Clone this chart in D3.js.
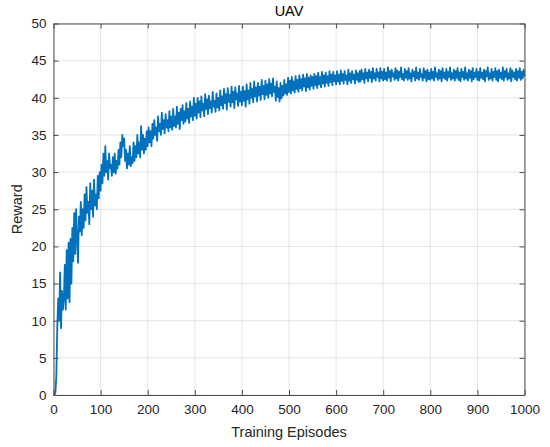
<!DOCTYPE html>
<html>
	<head>
		<meta charset="utf-8">
		<script src="https://cdnjs.cloudflare.com/ajax/libs/d3/7.8.5/d3.min.js" charset="utf-8"></script>
		<style>
			body {
				margin: 0;
				background: #fff;
				font-family: 'Liberation Sans', Arial, sans-serif;
			}
			.grid line { stroke: #e5e5e5; stroke-width: 1; }
			.axis path, .axis line { stroke: #4d4d4d; }
			.axis text { fill: #262626; font-size: 13.5px; font-family: 'Liberation Sans', Arial, sans-serif; }
		</style>
	</head>
	<body>

		<div id="chart"></div>

		<script>

			//////////////////////////////// Data //////////////////////////////
			var title = "UAV";
			var xLabel = "Training Episodes";
			var yLabel = "Reward";
			var xTicks = [0, 100, 200, 300, 400, 500, 600, 700, 800, 900, 1000];
			var yTicks = [0, 5, 10, 15, 20, 25, 30, 35, 40, 45, 50];

			// one value every 2 episodes
			var episodes = d3.range(2, 1001, 2);
			var reward = [
				// 2 - 100
				0, 0.3, 2.5, 9, 13, 10, 16.5, 9, 14, 11.5, 13, 17.5, 11.5, 19.5, 13, 20.5, 12.5,
				21, 15, 22.5, 18, 24.5, 19, 25, 21, 17.8, 24, 22, 26, 21.5, 25, 22.5,
				27, 23.5, 28, 24.5, 26, 23, 28.5, 25, 27.5, 24, 29, 25.5, 27, 25, 29.5, 26.5, 30, 27.5,
				// 102 - 200
				31, 28.5, 32.5, 29.5, 33.5, 30, 31.5, 29, 32.5, 30.5, 31, 29.5, 32, 30, 32.5, 29.8, 31.5, 30.5, 33, 31, 34, 32, 35, 33.5, 34.5,
				31.5, 33, 30.5, 32.5, 31, 33.5, 30.8, 32, 31.2, 34, 31.5, 33.5, 32, 35, 32.5, 34, 32, 36.2, 33, 35, 32.5, 34.5, 33, 35.5, 33.5,
				// 202 - 300
				36, 34, 35.5, 33.5, 36.5, 34.5, 37, 35, 36, 34.2, 37.5, 35.5, 36.5, 35, 38, 35.8, 37, 35.2, 37.8, 36, 37, 35.5, 38.2, 36, 37.5,
				35.7, 38.5, 36.2, 37.5, 36, 38.8, 36.5, 38, 35.8, 38.5, 37, 39, 36.5, 38.2, 36.8, 39.3, 37.2, 38.5, 36.6, 39.5, 37.5, 38.8, 37, 40, 37.6,
				// 302 - 400
				39.2, 37.2, 40, 38, 39.5, 37.4, 40.2, 38.3, 39.2, 37.5, 40.5, 38.5, 39.8, 37.8, 40.3, 38.6, 39.5, 38, 40.8, 38.8, 39.6, 38.1, 40.6, 38.7, 40,
				38.3, 41, 39, 40.2, 38.5, 41.2, 39.3, 40.5, 38.4, 41.3, 39.5, 40.4, 38.8, 41.5, 39.4, 40.8, 38.6, 41.4, 39.8, 40.6, 38.9, 41.6, 39.5, 40.8, 39,
				// 402 - 500
				41.5, 39.6, 40.9, 38.8, 41.8, 39.8, 41, 39.2, 42, 40, 41.2, 39.4, 42.2, 40.2, 41.4, 39.5, 42, 40.3, 41.5, 39.7, 42.4, 40.5, 41.6, 39.8, 42.3,
				40.4, 41.8, 40, 42.5, 40.6, 41.9, 40.2, 42.6, 40.8, 41.5, 39.6, 42.2, 40.1, 41.3, 39.5, 42, 39.9, 41.6, 40.3, 42.4, 40.6, 41.8, 40.4, 42.7, 40.8,
				// 502 - 600
				42.3, 40.6, 42.8, 41, 42.2, 40.7, 42.9, 41.2, 42.4, 40.8, 43, 41.3, 42.5, 41, 43.1, 41.5, 42.6, 40.9, 43.2, 41.4, 42.7, 41.1, 43, 41.6, 42.8,
				41.2, 43.2, 41.7, 42.9, 41.3, 43.4, 41.8, 42.8, 41.4, 43.5, 41.9, 43, 41.5, 43.4, 42, 42.9, 41.6, 43.6, 42.1, 43.1, 41.7, 43.5, 42.2, 43, 41.8,
				// 602 - 700
				43.6, 42.2, 43.1, 41.8, 43.7, 42.3, 43.2, 41.9, 43.6, 42.4, 43, 41.8, 43.8, 42.3, 43.3, 42, 43.6, 42.5, 43.1, 41.9, 43.7, 42.4, 43.3, 42.1, 43.6,
				42.2, 43.8, 42.5, 43.3, 42, 43.9, 42.6, 43.4, 42.2, 43.8, 42.7, 43.5, 42.1, 44, 42.6, 43.3, 42.3, 43.9, 42.8, 43.4, 42.2, 44, 42.6, 43.5, 42.3,
				// 702 - 800
				43.9, 42.5, 43.4, 42.3, 44.1, 42.7, 43.6, 42.2, 43.8, 42.9, 43.3, 42.4, 44, 42.6, 43.7, 42.3, 43.5, 42.8, 44.1, 42.5, 43.2, 42.3, 43.9, 42.7, 43.6,
				42.4, 44, 42.6, 43.3, 42.2, 43.8, 42.9, 43.5, 42.3, 44.1, 42.6, 43.4, 42.4, 43.9, 42.8, 43.2, 42.3, 44, 42.7, 43.6, 42.2, 43.8, 42.5, 43.4, 42.4,
				// 802 - 900
				43.9, 42.6, 43.5, 42.3, 44.1, 42.8, 43.3, 42.4, 43.8, 42.6, 43.6, 42.2, 44, 42.7, 43.4, 42.5, 43.9, 42.3, 43.5, 42.8, 44.1, 42.4, 43.3, 42.6, 43.8,
				42.3, 43.6, 42.7, 44, 42.4, 43.4, 42.2, 43.9, 42.8, 43.5, 42.4, 44.1, 42.6, 43.3, 42.3, 43.8, 42.7, 43.6, 42.2, 44, 42.5, 43.4, 42.8, 43.9, 42.4,
				// 902 - 1000
				43.5, 42.3, 44, 42.7, 43.4, 42.5, 43.8, 42.2, 43.6, 42.9, 44.1, 42.4, 43.3, 42.6, 43.9, 42.3, 43.5, 42.8, 44, 42.4, 43.6, 42.2, 43.8, 42.7, 43.4,
				42.5, 44.1, 42.3, 43.6, 42.8, 43.9, 42.4, 43.3, 42.6, 44, 42.2, 43.7, 42.8, 43.4, 42.5, 43.9, 42.3, 43.6, 42.7, 44, 42.4, 43.5, 42.6, 43.8, 42.9
			];

			//////////////////////////////// Layout //////////////////////////////
			var margin = { top: 23.5, right: 25.5, bottom: 52, left: 53.5 };
			var fullW = 550, fullH = 447;
			var width = fullW - margin.left - margin.right,
				height = fullH - margin.top - margin.bottom;

			var svg = d3.select('#chart')
				.append("svg")
				.attr("width", fullW)
				.attr("height", fullH);

			var g = svg.append("g")
				.attr("transform", "translate(" + margin.left + "," + margin.top + ")");

			var x = d3.scaleLinear().domain([0, 1000]).range([0, width]);
			var y = d3.scaleLinear().domain([0, 50]).range([height, 0]);

			//Grid
			var grid = g.append("g").attr("class", "grid");
			grid.selectAll(".vg").data(xTicks).enter().append("line")
				.attr("x1", function(d) { return x(d); })
				.attr("x2", function(d) { return x(d); })
				.attr("y1", 0).attr("y2", height);
			grid.selectAll(".hg").data(yTicks).enter().append("line")
				.attr("x1", 0).attr("x2", width)
				.attr("y1", function(d) { return y(d); })
				.attr("y2", function(d) { return y(d); });

			//Line
			var line = d3.line()
				.x(function(d, i) { return x(episodes[i]); })
				.y(function(d) { return y(d); });

			g.append("path")
				.datum(reward)
				.attr("d", line)
				.attr("fill", "none")
				.attr("stroke", "#0072BD")
				.attr("stroke-width", 1.8)
				.attr("stroke-linejoin", "round");

			//Axes (box on, ticks inside)
			var tl = 5;
			g.append("g").attr("class", "axis")
				.attr("transform", "translate(0," + height + ")")
				.call(d3.axisBottom(x).tickValues(xTicks).tickFormat(d3.format("d")).tickSizeInner(-tl).tickSizeOuter(0).tickPadding(9));
			g.append("g").attr("class", "axis")
				.call(d3.axisLeft(y).tickValues(yTicks).tickSizeInner(-tl).tickSizeOuter(0).tickPadding(7));
			g.append("g").attr("class", "axis")
				.call(d3.axisTop(x).tickValues(xTicks).tickSizeInner(-tl).tickSizeOuter(0).tickFormat(""));
			g.append("g").attr("class", "axis")
				.attr("transform", "translate(" + width + ",0)")
				.call(d3.axisRight(y).tickValues(yTicks).tickSizeInner(-tl).tickSizeOuter(0).tickFormat(""));

			//Titles
			svg.append("text")
				.attr("x", margin.left + width / 2)
				.attr("y", 16)
				.attr("text-anchor", "middle")
				.style("font-size", "14.5px")
				.style("fill", "#000")
				.text(title);

			svg.append("text")
				.attr("x", margin.left + width / 2)
				.attr("y", 437)
				.attr("text-anchor", "middle")
				.style("font-size", "14.5px")
				.style("fill", "#262626")
				.text(xLabel);

			svg.append("text")
				.attr("transform", "translate(22," + (margin.top + height / 2) + ") rotate(-90)")
				.attr("text-anchor", "middle")
				.style("font-size", "14.5px")
				.style("fill", "#262626")
				.text(yLabel);

		</script>

	</body>
</html>
